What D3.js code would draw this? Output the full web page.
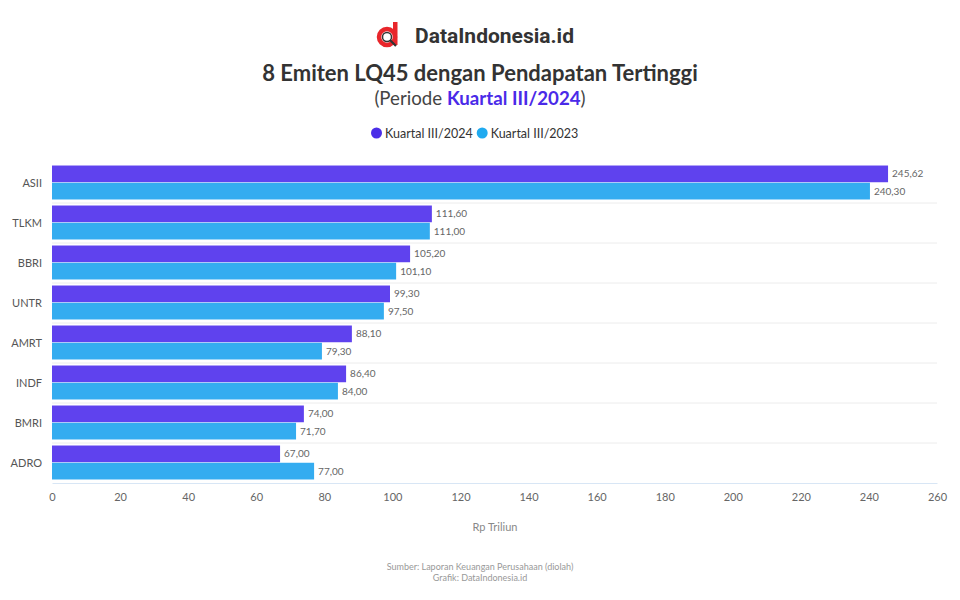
<!DOCTYPE html>
<html><head><meta charset="utf-8">
<script src="https://cdn.jsdelivr.net/npm/d3@7"></script>
<style>
body{margin:0;background:#fff;}
svg{display:block;}
</style></head>
<body>
<svg id="chart" width="960" height="600"></svg>
<script>
const categories = ["ASII","TLKM","BBRI","UNTR","AMRT","INDF","BMRI","ADRO"];
const series2024 = [245.62,111.60,105.20,99.30,88.10,86.40,74.00,67.00];
const series2023 = [240.30,111.00,101.10,97.50,79.30,84.00,71.70,77.00];
const seriesNames = ["Kuartal III/2024","Kuartal III/2023"];
const xTicks = [0,20,40,60,80,100,120,140,160,180,200,220,240,260];

const svg = d3.select("#chart");
const colors = ["#5f42ee","#34acf0"];
const fmt = v => d3.format(".2f")(v).replace(".", ",");

// Logo
const logo = svg.append("g");
logo.append("circle").attr("cx",387).attr("cy",37).attr("r",8).attr("fill","none").attr("stroke","#e8262b").attr("stroke-width",4.5);
logo.append("rect").attr("x",393).attr("y",22).attr("width",4.5).attr("height",23).attr("fill","#e8262b");
logo.append("circle").attr("cx",387).attr("cy",37).attr("r",4.5).attr("fill","#fff").attr("stroke","#333").attr("stroke-width",1.5);
logo.append("line").attr("x1",390).attr("y1",40).attr("x2",396).attr("y2",46).attr("stroke","#333").attr("stroke-width",2.2);
logo.append("text").attr("x",415).attr("y",43).attr("font-family","Roboto").attr("font-weight",700)
  .attr("font-size",21).attr("fill","#333").text("DataIndonesia.id");

// Title
svg.append("text").attr("x",480).attr("y",81).attr("text-anchor","middle")
  .attr("font-family","Lato").attr("font-weight",700).attr("font-size",22).attr("fill","#333")
  .text("8 Emiten LQ45 dengan Pendapatan Tertinggi");
const sub = svg.append("text").attr("x",480).attr("y",105).attr("text-anchor","middle")
  .attr("font-family","Lato").attr("font-size",18.7).attr("fill","#444");
sub.append("tspan").text("(Periode ");
sub.append("tspan").attr("font-weight",700).attr("fill","#4a2ae8").text("Kuartal III/2024");
sub.append("tspan").text(")");

// Legend
const legend = svg.append("g");
let lx = 371;
seriesNames.forEach((n,i)=>{
  legend.append("circle").attr("cx",lx+5.5).attr("cy",133).attr("r",5.5).attr("fill",i===0?"#4b2ee8":"#1faaf0");
  const t = legend.append("text").attr("x",lx+14).attr("y",137.5).attr("font-family","Lato")
    .attr("font-size",12.5).attr("fill","#333").text(n);
  lx += 14 + t.node().getComputedTextLength() + 4;
});

// Scales
const x = d3.scaleLinear().domain([0,260]).range([52,937]);
const y = d3.scaleBand().domain(categories).range([163,483]).paddingInner(0).paddingOuter(0);
const inner = d3.scaleBand().domain(seriesNames).range([2,y.bandwidth()-3]).padding(0.03);

// Gridlines (horizontal, between categories)
svg.append("g").selectAll("line").data(categories.slice(1)).join("line")
  .attr("x1",52).attr("x2",937)
  .attr("y1",d=>y(d)).attr("y2",d=>y(d))
  .attr("stroke","#ececec").attr("stroke-width",1);

// Bars
const data = categories.map((c,i)=>({c, vals:[series2024[i],series2023[i]]}));
const groups = svg.append("g").selectAll("g").data(data).join("g")
  .attr("transform",d=>`translate(0,${y(d.c)})`);
groups.selectAll("rect").data(d=>d.vals.map((v,i)=>({v,s:seriesNames[i],i}))).join("rect")
  .attr("x",x(0)).attr("y",d=>inner(d.s)).attr("height",inner.bandwidth())
  .attr("width",d=>x(d.v)-x(0)).attr("fill",d=>colors[d.i]);
groups.selectAll("text").data(d=>d.vals.map((v,i)=>({v,s:seriesNames[i],i}))).join("text")
  .attr("x",d=>x(d.v)+4).attr("y",d=>inner(d.s)+inner.bandwidth()/2+3.5)
  .attr("font-family","Lato").attr("font-size",10).attr("fill","#666").text(d=>fmt(d.v));

// Axes
const yAxis = svg.append("g").attr("transform","translate(52,0)")
  .call(d3.axisLeft(y).tickSize(0).tickPadding(10));
yAxis.select(".domain").remove();
yAxis.selectAll("text").attr("font-family","Lato").attr("font-size",11).attr("fill","#555");

const xAxis = svg.append("g").attr("transform","translate(0,483)")
  .call(d3.axisBottom(x).tickValues(xTicks).tickSize(0).tickPadding(10));
xAxis.select(".domain").attr("stroke","#d8e6f5");
xAxis.selectAll("text").attr("font-family","Lato").attr("font-size",11).attr("fill","#666");

svg.append("text").attr("x",495).attr("y",531).attr("text-anchor","middle")
  .attr("font-family","Lato").attr("font-size",11).attr("fill","#888").text("Rp Triliun");

// Footer
svg.append("text").attr("x",480).attr("y",570).attr("text-anchor","middle")
  .attr("font-family","Lato").attr("font-size",9).attr("fill","#999").text("Sumber: Laporan Keuangan Perusahaan (diolah)");
svg.append("text").attr("x",480).attr("y",581).attr("text-anchor","middle")
  .attr("font-family","Lato").attr("font-size",9).attr("fill","#999").text("Grafik: DataIndonesia.id");
</script>
</body></html>
